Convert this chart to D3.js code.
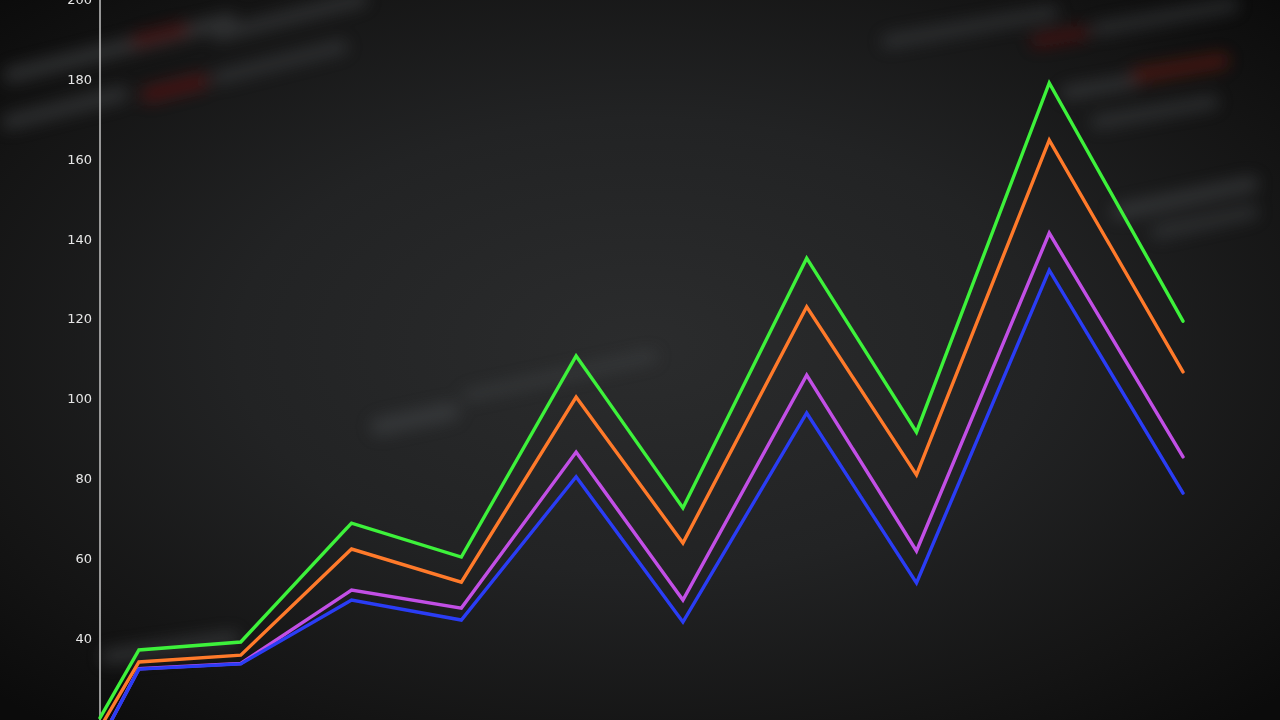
<!DOCTYPE html>
<html>
<head>
<meta charset="utf-8">
<script src="https://cdn.jsdelivr.net/npm/d3@7"></script>
<style>
  html, body { margin: 0; padding: 0; background: #141414; overflow: hidden; }
  svg { display: block; }
</style>
</head>
<body>
<svg id="chart" width="1280" height="720"></svg>
<script>
// ---- data ----
const xValues = [0, 0.39, 1.41, 2.52, 3.62, 4.77, 5.84, 7.08, 8.18, 9.51, 10.85];
const greenValues   = [20.0, 37.0, 39.0, 68.8, 60.3, 110.7, 72.6, 135.2, 91.6, 179.1, 119.4];
const orangeValues  = [17.5, 34.0, 35.7, 62.3, 54.0, 100.4, 63.8, 123.0, 80.9, 164.8, 106.7];
const magentaValues = [14.0, 32.3, 33.6, 52.0, 47.5, 86.6, 49.5, 105.9, 61.8, 141.5, 85.4];
const blueValues    = [14.0, 32.2, 33.5, 49.5, 44.5, 80.4, 44.0, 96.4, 53.8, 132.2, 76.3];
const yTicks = [40, 60, 80, 100, 120, 140, 160, 180, 200];

const seriesNames = ["green", "orange", "magenta", "blue"];
const seriesColors = ["#3df23a", "#ff7a2c", "#c24fe6", "#2b3cf5"];
const seriesData = [greenValues, orangeValues, magentaValues, blueValues];
const drawOrder = [2, 3, 1, 0]; // magenta, blue, orange, green (top)

// ---- drawing ----
const W = 1280, H = 720;
const svg = d3.select("#chart");
const defs = svg.append("defs");

const bg = defs.append("radialGradient").attr("id", "bg")
  .attr("cx", "50%").attr("cy", "48%").attr("r", "70%");
bg.append("stop").attr("offset", "0%").attr("stop-color", "#2b2c2d");
bg.append("stop").attr("offset", "45%").attr("stop-color", "#222324");
bg.append("stop").attr("offset", "80%").attr("stop-color", "#141414");
bg.append("stop").attr("offset", "100%").attr("stop-color", "#0b0b0b");

defs.append("filter").attr("id", "blurBig").attr("x", "-50%").attr("y", "-50%").attr("width", "200%").attr("height", "200%")
  .append("feGaussianBlur").attr("stdDeviation", 8);
defs.append("filter").attr("id", "blurSoft")
  .append("feGaussianBlur").attr("stdDeviation", 0.45);
const glow = defs.append("filter").attr("id", "glow").attr("x", "-10%").attr("y", "-10%").attr("width", "120%").attr("height", "120%");
glow.append("feGaussianBlur").attr("in", "SourceGraphic").attr("stdDeviation", 0.6);

svg.append("rect").attr("width", W).attr("height", H).attr("fill", "url(#bg)");

// blurred background smudges (out-of-focus text feel)
const smudges = svg.append("g").attr("filter", "url(#blurBig)").attr("opacity", 0.4);
const smudgeSpec = [
  [0, 40, 240, 16, "#5a5d60", -14], [130, 28, 60, 14, "#8a1515", -14], [210, 10, 160, 14, "#55585b", -14],
  [0, 100, 130, 16, "#55585b", -14], [140, 80, 70, 16, "#8a1515", -14], [210, 55, 140, 14, "#505356", -14],
  [370, 410, 90, 18, "#505356", -12], [460, 370, 200, 12, "#4a4d50", -12],
  [880, 20, 180, 14, "#4e5154", -10], [1030, 30, 60, 14, "#7a1010", -10], [1090, 10, 150, 14, "#4e5154", -10],
  [1060, 80, 80, 14, "#55585b", -10], [1130, 60, 100, 16, "#8a1a10", -10], [1090, 105, 130, 14, "#505356", -10],
  [1110, 190, 150, 16, "#55585b", -12], [1150, 215, 110, 14, "#4e5154", -12],
  [100, 640, 140, 16, "#55585b", -8]
];
smudgeSpec.forEach(s => {
  smudges.append("rect").attr("x", s[0]).attr("y", s[1]).attr("width", s[2]).attr("height", s[3])
    .attr("rx", 7).attr("fill", s[4])
    .attr("transform", `rotate(${s[5]}, ${s[0] + s[2] / 2}, ${s[1] + s[3] / 2})`);
});

const x = d3.scaleLinear().domain([0, 10.85]).range([100, 1183]);
const y = d3.scaleLinear().domain([40, 200]).range([638, -0.4]);

// y axis
const yAxis = d3.axisLeft(y).tickValues(yTicks).tickSize(0).tickPadding(8).tickFormat(d3.format("d"));
const ag = svg.append("g").attr("transform", "translate(100,0)").call(yAxis);
ag.select(".domain").remove();
ag.selectAll("text")
  .attr("fill", "#e6e6e6")
  .attr("font-family", "'DejaVu Sans', sans-serif")
  .attr("font-size", 13)
  .attr("filter", "url(#blurSoft)");
svg.append("line").attr("x1", 100).attr("x2", 100).attr("y1", 0).attr("y2", H)
  .attr("stroke", "#b9b9b9").attr("stroke-width", 1.6);

// lines
const line = d3.line().x((d, i) => x(xValues[i])).y(d => y(d)).curve(d3.curveLinear);
const lg = svg.append("g");
drawOrder.forEach(k => {
  lg.append("path")
    .datum(seriesData[k])
    .attr("class", "series-" + seriesNames[k])
    .attr("d", line)
    .attr("fill", "none")
    .attr("stroke", seriesColors[k])
    .attr("stroke-width", 3.4)
    .attr("stroke-linejoin", "miter")
    .attr("stroke-linecap", "round")
    .attr("filter", "url(#glow)");
});
</script>
</body>
</html>
